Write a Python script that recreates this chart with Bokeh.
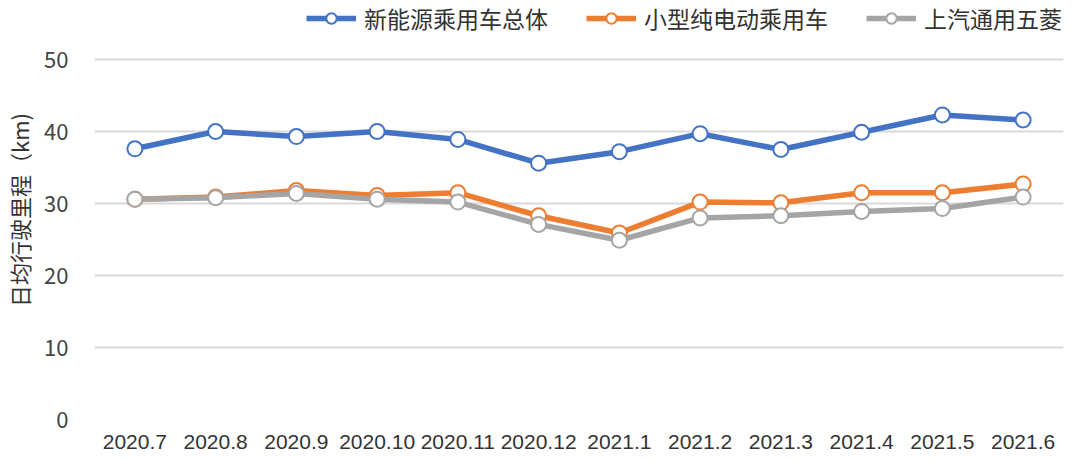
from bokeh.plotting import figure
from bokeh.models import Range1d, Legend, LegendItem, FixedTicker
from bokeh.embed import file_html
from bokeh.resources import INLINE

months = ["2020.7", "2020.8", "2020.9", "2020.10", "2020.11", "2020.12",
          "2021.1", "2021.2", "2021.3", "2021.4", "2021.5", "2021.6"]
nev_total = [37.6, 40.0, 39.3, 40.0, 38.9, 35.6, 37.2, 39.7, 37.5, 39.9, 42.3, 41.6]
small_bev = [30.6, 30.9, 31.8, 31.1, 31.5, 28.3, 25.9, 30.2, 30.1, 31.5, 31.5, 32.7]
sgmw = [30.6, 30.8, 31.4, 30.6, 30.2, 27.1, 24.9, 28.0, 28.3, 28.9, 29.3, 30.9]

series_names = ["新能源乘用车总体", "小型纯电动乘用车", "上汽通用五菱"]
colors = ["#4472C4", "#ED7D31", "#A5A5A5"]
y_ticks = [0, 10, 20, 30, 40, 50]

FONT = "Noto Sans CJK SC"

# frame spans full height above x labels; 50 sits at 59px from the top
p = figure(width=1076, height=461, x_range=months, y_range=Range1d(0, 58.2),
           output_backend="svg", toolbar_location=None,
           min_border_left=92, min_border_right=13, min_border_top=0, min_border_bottom=42)
p.outline_line_color = None
p.background_fill_color = "white"

items = []
for name, vals, c in zip(series_names, [nev_total, small_bev, sgmw], colors):
    r1 = p.line(months, vals, line_color=c, line_width=5.5)
    r2 = p.scatter(months, vals, size=15, fill_color="white", line_color=c, line_width=2)
    items.append(LegendItem(label=name, renderers=[r1, r2]))

legend = Legend(items=items, orientation="horizontal", location=(212, 384),
                label_text_font=FONT, label_text_font_size="23px", label_text_color="#333333",
                glyph_width=50, glyph_height=26, label_standoff=8, spacing=38,
                background_fill_alpha=0, border_line_color=None, padding=0, margin=0)
p.add_layout(legend, "center")

p.yaxis.ticker = FixedTicker(ticks=y_ticks)
p.yaxis.axis_line_color = None
p.yaxis.major_tick_line_color = None
p.yaxis.minor_tick_line_color = None
p.yaxis.major_label_text_font = FONT
p.yaxis.major_label_text_font_size = "22px"
p.yaxis.major_label_text_color = "#444444"
p.yaxis.major_label_standoff = 20
p.yaxis.axis_label = "日均行驶里程（km)"
p.yaxis.axis_label_text_font = FONT
p.yaxis.axis_label_text_font_size = "22px"
p.yaxis.axis_label_text_font_style = "normal"
p.yaxis.axis_label_text_color = "#333333"
p.yaxis.axis_label_standoff = 6

p.xaxis.axis_line_color = None
p.xaxis.major_tick_line_color = None
p.xaxis.major_label_text_font = "Liberation Sans"
p.xaxis.major_label_text_font_size = "21px"
p.xaxis.major_label_text_color = "#333333"
p.xaxis.major_label_standoff = 9

p.xgrid.grid_line_color = None
p.ygrid.grid_line_color = "#D9D9D9"
p.ygrid.grid_line_width = 2

open("out.html", "w").write(file_html(p, INLINE))
